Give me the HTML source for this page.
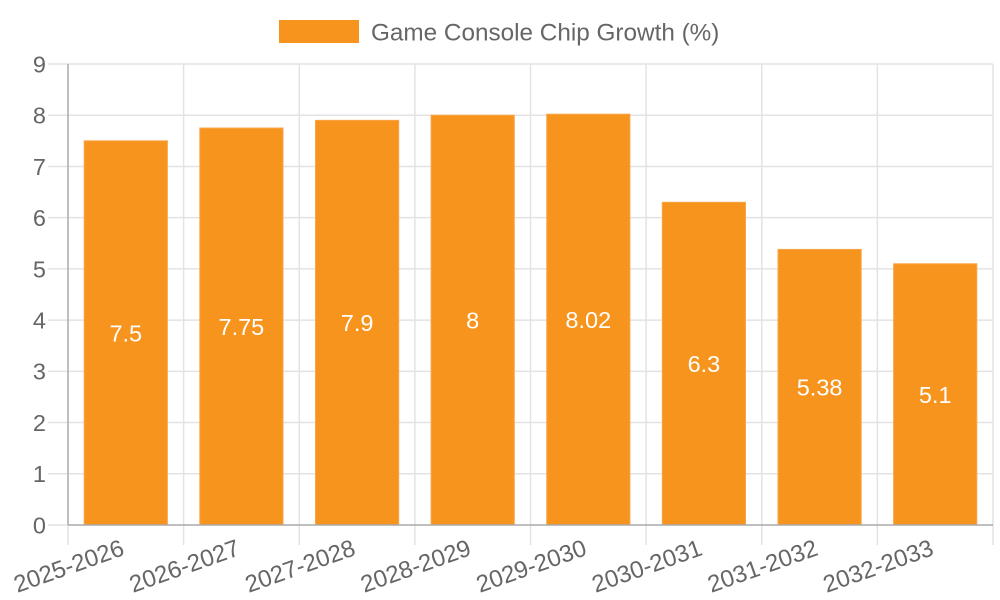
<!DOCTYPE html>
<html><head><meta charset="utf-8"><style>
html,body{margin:0;padding:0;background:#fff;}
svg{display:block;font-family:"Liberation Sans",Arial,sans-serif;}
</style></head><body>
<svg width="1000" height="600" viewBox="0 0 1000 600" xmlns="http://www.w3.org/2000/svg">
<rect width="1000" height="600" fill="#fff"/>
<!-- legend -->
<rect x="279" y="20" width="80" height="23" fill="#f7941e"/>
<text x="371" y="40.5" font-size="24.3" fill="#666">Game Console Chip Growth (%)</text>
<!-- horizontal grid -->
<g stroke="#e3e3e3" stroke-width="1.5">
<line x1="48" y1="64" x2="993" y2="64"/>
<line x1="48" y1="115.22" x2="993" y2="115.22"/>
<line x1="48" y1="166.44" x2="993" y2="166.44"/>
<line x1="48" y1="217.67" x2="993" y2="217.67"/>
<line x1="48" y1="268.89" x2="993" y2="268.89"/>
<line x1="48" y1="320.11" x2="993" y2="320.11"/>
<line x1="48" y1="371.33" x2="993" y2="371.33"/>
<line x1="48" y1="422.56" x2="993" y2="422.56"/>
<line x1="48" y1="473.78" x2="993" y2="473.78"/>
<line x1="48" y1="525" x2="68" y2="525"/>
</g>
<!-- vertical grid -->
<g stroke="#e3e3e3" stroke-width="1.5">
<line x1="183.6" y1="64" x2="183.6" y2="545"/>
<line x1="299.3" y1="64" x2="299.3" y2="545"/>
<line x1="414.9" y1="64" x2="414.9" y2="545"/>
<line x1="530.5" y1="64" x2="530.5" y2="545"/>
<line x1="646.1" y1="64" x2="646.1" y2="545"/>
<line x1="761.8" y1="64" x2="761.8" y2="545"/>
<line x1="877.4" y1="64" x2="877.4" y2="545"/>
<line x1="993" y1="64" x2="993" y2="545"/>
<line x1="68" y1="525" x2="68" y2="545"/>
</g>
<!-- bars -->
<g fill="#f7941e" stroke="#f9a647" stroke-width="1">
<rect x="84.2" y="140.83" width="83.2" height="384.17"/>
<rect x="199.8" y="128.03" width="83.2" height="396.97"/>
<rect x="315.5" y="120.35" width="83.2" height="404.65"/>
<rect x="431.1" y="115.22" width="83.2" height="409.78"/>
<rect x="546.7" y="114.20" width="83.2" height="410.80"/>
<rect x="662.3" y="202.30" width="83.2" height="322.70"/>
<rect x="778.0" y="249.43" width="83.2" height="275.57"/>
<rect x="893.6" y="263.77" width="83.2" height="261.23"/>
</g>
<!-- axes -->
<g stroke="#aaa" stroke-width="1.5">
<line x1="68" y1="64" x2="68" y2="525"/>
<line x1="68" y1="525" x2="993" y2="525"/>
</g>
<!-- y labels -->
<g font-size="23.5" fill="#666" text-anchor="end">
<text x="46" y="72.4">9</text>
<text x="46" y="123.6">8</text>
<text x="46" y="174.8">7</text>
<text x="46" y="226.1">6</text>
<text x="46" y="277.3">5</text>
<text x="46" y="328.5">4</text>
<text x="46" y="379.7">3</text>
<text x="46" y="431">2</text>
<text x="46" y="482.2">1</text>
<text x="46" y="533.4">0</text>
</g>
<!-- data labels -->
<g font-size="23.5" fill="#fff" text-anchor="middle">
<text x="125.8" y="341.3">7.5</text>
<text x="241.4" y="334.9">7.75</text>
<text x="357.1" y="331.1">7.9</text>
<text x="472.7" y="328.5">8</text>
<text x="588.3" y="328">8.02</text>
<text x="703.9" y="372.1">6.3</text>
<text x="819.6" y="395.6">5.38</text>
<text x="935.2" y="402.8">5.1</text>
</g>
<!-- x labels -->
<g font-size="24" fill="#666" text-anchor="end">
<text transform="translate(125.6,554.5) rotate(-19.5)">2025-2026</text>
<text transform="translate(241.2,554.5) rotate(-19.5)">2026-2027</text>
<text transform="translate(356.9,554.5) rotate(-19.5)">2027-2028</text>
<text transform="translate(472.5,554.5) rotate(-19.5)">2028-2029</text>
<text transform="translate(588.1,554.5) rotate(-19.5)">2029-2030</text>
<text transform="translate(703.7,554.5) rotate(-19.5)">2030-2031</text>
<text transform="translate(819.4,554.5) rotate(-19.5)">2031-2032</text>
<text transform="translate(935,554.5) rotate(-19.5)">2032-2033</text>
</g>
</svg>
</body></html>
